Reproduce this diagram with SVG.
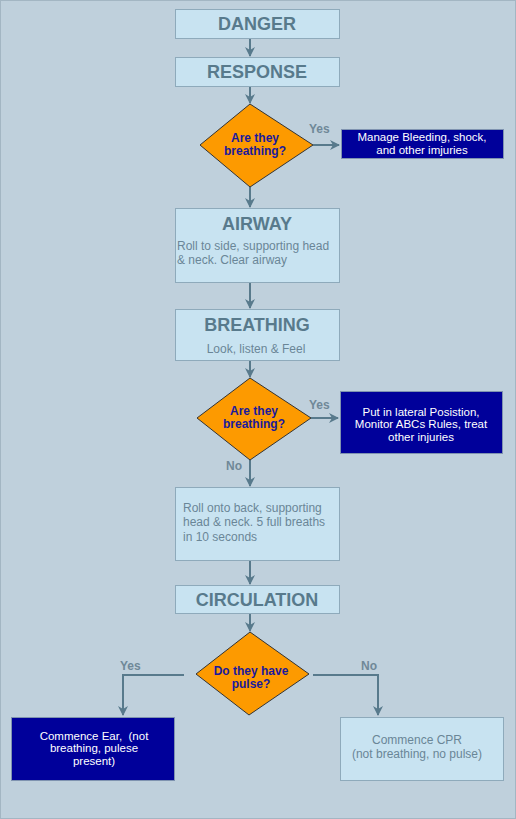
<svg xmlns="http://www.w3.org/2000/svg" width="516" height="819" viewBox="0 0 516 819">
<defs>
<marker id="ah" markerWidth="10" markerHeight="10" refX="9" refY="5" orient="auto" markerUnits="userSpaceOnUse">
<path d="M0,0 L10,5 L0,10 L3,5 Z" fill="#587a8c"/>
</marker>
</defs>
<style>
.box{fill:#c8e3f1;stroke:#8eaabb;stroke-width:1}
.dark{fill:#00009a;stroke:#7f93b0;stroke-width:1}
.dia{fill:#fd9a00;stroke:#333;stroke-width:1}
.title{font-family:"Liberation Sans",Arial,sans-serif;font-weight:bold;font-size:18px;fill:#587a8c;text-anchor:middle}
.body{font-family:"Liberation Sans",Arial,sans-serif;font-size:12px;fill:#6a8697}
.q{font-family:"Liberation Sans",Arial,sans-serif;font-weight:bold;font-size:12px;fill:#1a1a9c;text-anchor:middle}
.w{font-family:"Liberation Sans",Arial,sans-serif;font-size:11.5px;fill:#ffffff;text-anchor:middle;white-space:pre}
.lbl{font-family:"Liberation Sans",Arial,sans-serif;font-weight:bold;font-size:12px;fill:#6f8898}
.c{fill:none;stroke:#587a8c;stroke-width:2}
</style>
<rect x="0" y="0" width="516" height="819" fill="#bfd0dc"/>
<rect x="0.5" y="0.5" width="515" height="818" fill="none" stroke="#a3b6c3"/>

<g id="connectors">
<line class="c" x1="250" y1="38" x2="250" y2="56" marker-end="url(#ah)"/>
<line class="c" x1="250" y1="86" x2="250" y2="103" marker-end="url(#ah)"/>
<line class="c" x1="313" y1="145" x2="339" y2="145" marker-end="url(#ah)"/>
<line class="c" x1="250" y1="187" x2="250" y2="207" marker-end="url(#ah)"/>
<line class="c" x1="250" y1="282" x2="250" y2="308" marker-end="url(#ah)"/>
<line class="c" x1="250" y1="360" x2="250" y2="377" marker-end="url(#ah)"/>
<line class="c" x1="311" y1="418" x2="338" y2="418" marker-end="url(#ah)"/>
<line class="c" x1="250" y1="460" x2="250" y2="486" marker-end="url(#ah)"/>
<line class="c" x1="250" y1="560" x2="250" y2="584" marker-end="url(#ah)"/>
<line class="c" x1="250" y1="613" x2="250" y2="631" marker-end="url(#ah)"/>
<polyline class="c" points="184,675 123,675 123,715" marker-end="url(#ah)"/>
<polyline class="c" points="313,675 378,675 378,715" marker-end="url(#ah)"/>
<text class="lbl" x="309" y="133">Yes</text>
<text class="lbl" x="309" y="409">Yes</text>
<text class="lbl" x="226" y="470">No</text>
<text class="lbl" x="120" y="670">Yes</text>
<text class="lbl" x="361" y="670">No</text>
</g>

<g id="danger">
<rect class="box" x="175.5" y="9.5" width="164" height="29"/>
<text class="title" x="257" y="30">DANGER</text>
</g>
<g id="response">
<rect class="box" x="175.5" y="57.5" width="164" height="29"/>
<text class="title" x="257" y="78">RESPONSE</text>
</g>
<g id="q1">
<polygon class="dia" points="250,104 313,145 250,187 200,145"/>
<text class="q" x="255" y="142">Are they</text>
<text class="q" x="255" y="155">breathing?</text>
</g>
<g id="manage">
<rect class="dark" x="341.5" y="129.5" width="162" height="29"/>
<text class="w" x="422" y="141">Manage Bleeding, shock,</text>
<text class="w" x="422" y="154">and other imjuries</text>
</g>
<g id="airway">
<rect class="box" x="175.5" y="208.5" width="164" height="74"/>
<text class="title" x="257" y="230">AIRWAY</text>
<text class="body" x="177" y="250">Roll to side, supporting head</text>
<text class="body" x="177" y="264">&amp; neck. Clear airway</text>
</g>
<g id="breathing">
<rect class="box" x="175.5" y="309.5" width="164" height="51"/>
<text class="title" x="257" y="331">BREATHING</text>
<text class="body" x="256" y="353" text-anchor="middle">Look, listen &amp; Feel</text>
</g>
<g id="q2">
<polygon class="dia" points="250,378 311,418 250,460 197,418"/>
<text class="q" x="254" y="415">Are they</text>
<text class="q" x="254" y="428">breathing?</text>
</g>
<g id="lateral">
<rect class="dark" x="340.5" y="391.5" width="162" height="62"/>
<text class="w" x="421" y="415.5">Put in lateral Posistion,</text>
<text class="w" x="421" y="428">Monitor ABCs Rules, treat</text>
<text class="w" x="421" y="440.5">other injuries</text>
</g>
<g id="rollback">
<rect class="box" x="175.5" y="487.5" width="164" height="73"/>
<text class="body" x="183" y="512">Roll onto back, supporting</text>
<text class="body" x="183" y="526">head &amp; neck. 5 full breaths</text>
<text class="body" x="183" y="541">in 10 seconds</text>
</g>
<g id="circulation">
<rect class="box" x="175.5" y="585.5" width="164" height="28"/>
<text class="title" x="257" y="606">CIRCULATION</text>
</g>
<g id="q3">
<polygon class="dia" points="250,632 309,674 249,715 196,674"/>
<text class="q" x="251" y="675">Do they have</text>
<text class="q" x="251" y="688">pulse?</text>
</g>
<g id="ear">
<rect class="dark" x="11.5" y="717.5" width="163" height="63"/>
<text class="w" x="94" y="739.5">Commence Ear,  (not</text>
<text class="w" x="94" y="752">breathing, pulese</text>
<text class="w" x="94" y="764.5">present)</text>
</g>
<g id="cpr">
<rect class="box" x="340.5" y="717.5" width="163" height="63"/>
<text class="body" x="417" y="744" text-anchor="middle">Commence CPR</text>
<text class="body" x="417" y="758" text-anchor="middle">(not breathing, no pulse)</text>
</g>
</svg>
